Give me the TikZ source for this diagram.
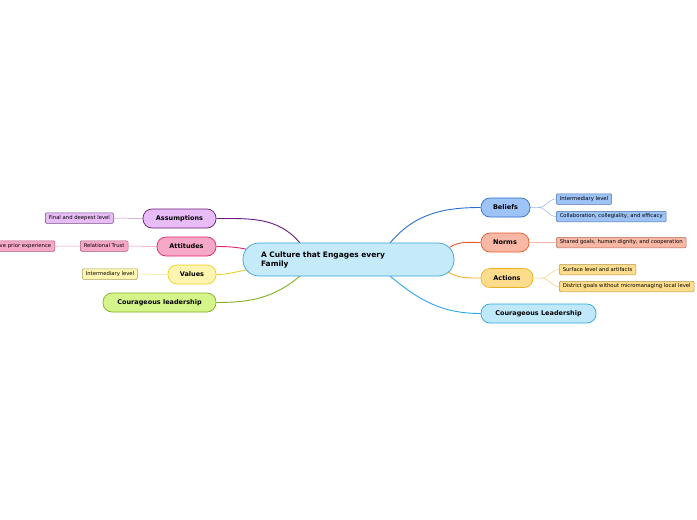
\documentclass[tikz,border=0pt]{standalone}
\usepackage{fontspec}
\setmainfont{DejaVu Sans}
\usetikzlibrary{backgrounds}
\definecolor{cbl}{HTML}{C5EBFB}
\definecolor{cblb}{HTML}{3A9FD8}
\definecolor{bF}{RGB}{158,195,247}\definecolor{bD}{RGB}{42,111,208}
\definecolor{nF}{RGB}{249,184,166}\definecolor{nD}{RGB}{232,90,42}
\definecolor{aF}{RGB}{253,220,140}\definecolor{aD}{RGB}{240,176,32}
\definecolor{lF}{RGB}{191,233,251}\definecolor{lD}{RGB}{42,167,224}
\definecolor{pF}{RGB}{232,188,246}\definecolor{pD}{RGB}{106,26,128}
\definecolor{kF}{RGB}{247,168,200}\definecolor{kD}{RGB}{224,32,106}
\definecolor{yF}{RGB}{255,245,176}\definecolor{yD}{RGB}{232,208,32}
\definecolor{gF}{RGB}{212,245,138}\definecolor{gD}{RGB}{128,176,32}
\begin{document}
\begin{tikzpicture}[x=1pt,y=-1pt,
 main/.style={draw,rounded corners=9pt,minimum height=19pt,inner sep=0pt,font=\bfseries\fontsize{6.5}{7}\selectfont,line width=0.7pt},
 leaf/.style={draw,rounded corners=1.2pt,minimum height=10.5pt,inner ysep=0pt,inner xsep=3.5pt,font=\fontsize{5.3}{5.5}\selectfont,line width=0.5pt},
 lb/.style={leaf,fill=bF,draw=bD!60!gray},
 ln/.style={leaf,fill=nF,draw=nD!50!gray},
 la/.style={leaf,fill=aF,draw=aD!50!gray},
 lp/.style={leaf,fill=pF,draw=pD!50!gray},
 lk/.style={leaf,fill=kF,draw=kD!40!gray},
 ly/.style={leaf,fill=yF,draw=yD!40!gray},
 con/.style={line width=0.9pt},
 sub/.style={line width=0.5pt}]
\useasboundingbox (0,0) rectangle (697,520);
\node[draw=cblb,fill=cbl,rounded corners=16pt,minimum width=211pt,minimum height=33pt,line width=0.7pt,font=\bfseries\fontsize{7.5}{9}\selectfont,align=left,text width=175pt] (c) at (348.5,259.5) {A Culture that Engages every\\Family};
\node[main,fill=bF,draw=bD,minimum width=49pt] (b) at (505.5,207.5) {Beliefs};
\node[main,fill=nF,draw=nD,minimum width=48pt] (n) at (505,242.5) {Norms};
\node[main,fill=aF,draw=aD,minimum width=52pt] (a) at (507,278) {Actions};
\node[main,fill=lF,draw=lD,minimum width=115pt] (cl) at (538.5,313.5) {Courageous Leadership};
\node[main,fill=pF,draw=pD,minimum width=73pt] (as) at (179.5,218.5) {Assumptions};
\node[main,fill=kF,draw=kD,minimum width=59pt] (at) at (186.5,246.5) {Attitudes};
\node[main,fill=yF,draw=yD,minimum width=48pt] (v) at (192,274.5) {Values};
\node[main,fill=gF,draw=gD,minimum width=113pt] (cg) at (159.5,302.5) {Courageous leadership};
\node[lb,anchor=west] (b1) at (556,199) {Intermediary level};
\node[lb,anchor=west] (b2) at (556,216.5) {Collaboration, collegiality, and efficacy};
\node[ln,anchor=west] (n1) at (556,242.5) {Shared goals, human dignity, and cooperation};
\node[la,anchor=west] (a1) at (559,269.5) {Surface level and artifacts};
\node[la,anchor=west] (a2) at (559,286.5) {District goals without micromanaging local level};
\node[lp,anchor=west] (as1) at (45,218) {Final and deepest level};
\node[lk,anchor=west] (at1) at (80,246) {Relational Trust};
\node[lk,anchor=east] (at2) at (55,246) {Positive prior experience};
\node[ly,anchor=west] (v1) at (82,274) {Intermediary level};
\coordinate (cb) at (390,243); \coordinate (cn) at (450,247);
\coordinate (ca) at (448,272); \coordinate (ccl) at (390,276);
\coordinate (cas) at (300,243); \coordinate (cat) at (246,249);
\coordinate (cv) at (246,270); \coordinate (ccg) at (300,276);
\begin{scope}[on background layer]
\draw[con,bD] (cb) to[out=50,in=180] (b.west);
\draw[con,nD] (cn) to[out=30,in=180] (n.west);
\draw[con,aD] (ca) to[out=-30,in=180] (a.west);
\draw[con,lD] (ccl) to[out=-40,in=180] (cl.west);
\draw[con,pD] (cas) to[out=130,in=0] (as.east);
\draw[con,kD] (cat) to[out=170,in=0] (at.east);
\draw[con,yD] (cv) to[out=-170,in=0] (v.east);
\draw[con,gD] (ccg) to[out=-140,in=0] (cg.east);
\draw[sub,bD!50] (b.east) -- ++(8,0) coordinate (bj) to[out=0,in=180] (b1.west) (bj) to[out=0,in=180] (b2.west);
\draw[sub,nF] (n.east) -- (n1.west);
\draw[sub,aD!60] (a.east) -- ++(8,0) coordinate (aj) to[out=0,in=180] (a1.west) (aj) to[out=0,in=180] (a2.west);
\draw[sub,pD!50] (as.west) -- (as1.east);
\draw[sub,kD!50] (at.west) -- (at1.east) (at1.west) -- (at2.east);
\draw[sub,yD!60] (v.west) -- (v1.east);
\end{scope}
\end{tikzpicture}
\end{document}
